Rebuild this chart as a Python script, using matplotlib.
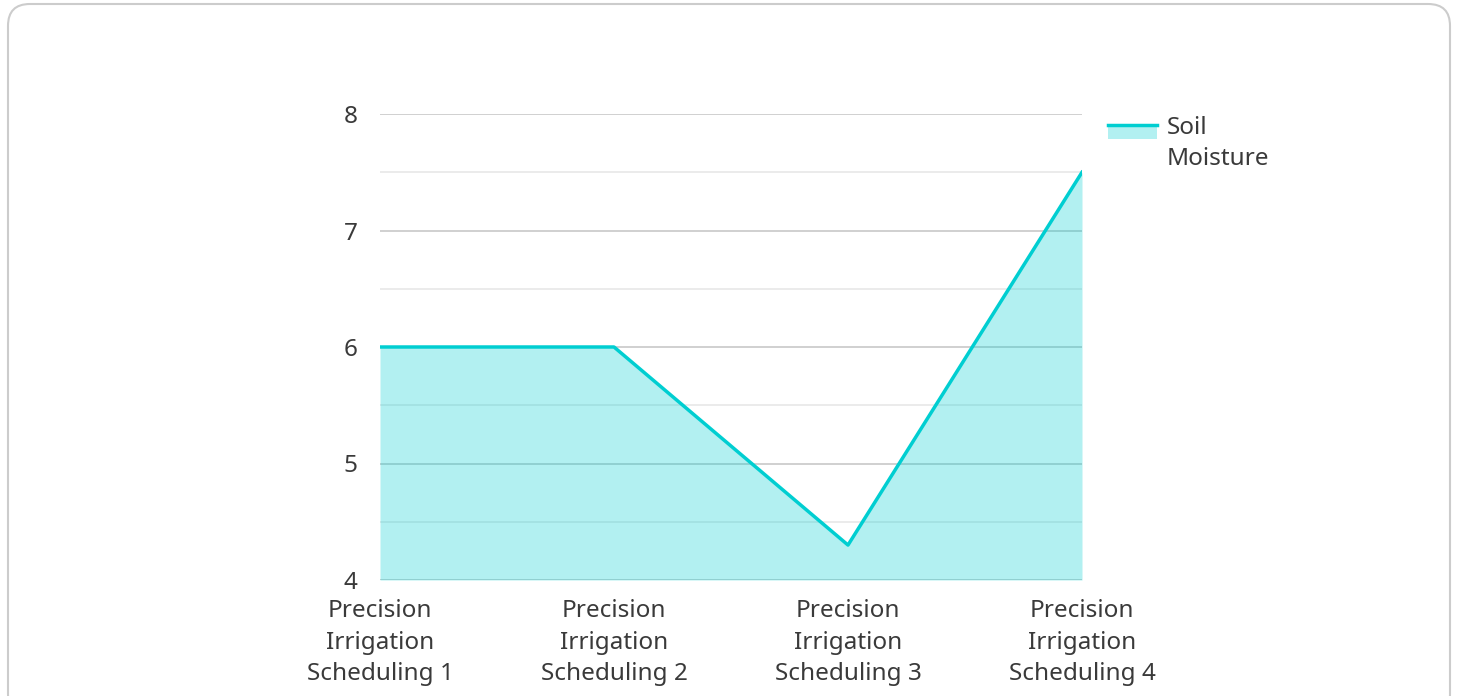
import matplotlib
matplotlib.use("Agg")
import matplotlib.pyplot as plt
from matplotlib.patches import FancyBboxPatch, Rectangle
from matplotlib.lines import Line2D
from matplotlib.legend_handler import HandlerBase

plt.rcParams['font.family'] = ['Noto Sans', 'DejaVu Sans']

# --- data ---
categories = [
    "Precision\nIrrigation\nScheduling 1",
    "Precision\nIrrigation\nScheduling 2",
    "Precision\nIrrigation\nScheduling 3",
    "Precision\nIrrigation\nScheduling 4",
]
soil_moisture = [6.0, 6.0, 4.3, 7.5]
series_name = "Soil\nMoisture"

LINE_COLOR = "#00CED1"
FILL_COLOR = "#00CED1"
TEXT_COLOR = "#3a3a3a"
FONT_SIZE = 17.5


class AreaHandler(HandlerBase):
    """Legend key: line on top of a light filled band, level with the first text line."""
    def create_artists(self, legend, orig_handle, xdescent, ydescent,
                       width, height, fontsize, trans):
        line_y = height - ydescent + 0.5 * fontsize
        patch = Rectangle((-xdescent, line_y - height), width, height,
                          facecolor=FILL_COLOR, alpha=0.3, edgecolor='none',
                          transform=trans)
        line = Line2D([-xdescent, width - xdescent], [line_y, line_y],
                      color=LINE_COLOR, linewidth=2.5, transform=trans)
        return [patch, line]


fig = plt.figure(figsize=(14.58, 6.96), dpi=100)

# rounded card border
card = FancyBboxPatch((8 / 1458, -20 / 696), 1442 / 1458, 712 / 696,
                      boxstyle="round,pad=0,rounding_size=0.015",
                      transform=fig.transFigure, facecolor='white',
                      edgecolor='#cccccc', linewidth=1.5, zorder=-10,
                      mutation_aspect=1458 / 696)
fig.patches.append(card)

ax = fig.add_axes([380 / 1458, 1 - 580 / 696, 702 / 1458, 466 / 696])
ax.set_facecolor('none')
ax.set_zorder(1)

x = list(range(len(categories)))
ax.fill_between(x, 4, soil_moisture, color=FILL_COLOR, alpha=0.3, linewidth=0, zorder=2)
ax.plot(x, soil_moisture, color=LINE_COLOR, linewidth=2.5, zorder=3)

ax.set_xlim(0, len(categories) - 1)
ax.set_ylim(4, 8)

# gridlines: integer values darker, half values lighter
for v in [4, 5, 6, 7, 8]:
    ax.axhline(v, color='#c8c8c8', linewidth=1.2, zorder=1)
for v in [4.5, 5.5, 6.5, 7.5]:
    ax.axhline(v, color='#e8e8e8', linewidth=1.2, zorder=1)

ax.set_yticks([4, 5, 6, 7, 8])
ax.set_xticks(x)
ax.set_xticklabels(categories, linespacing=1.4)
ax.tick_params(axis='both', length=0, labelsize=FONT_SIZE, colors=TEXT_COLOR)
ax.tick_params(axis='y', pad=16)
ax.tick_params(axis='x', pad=14)
for s in ax.spines.values():
    s.set_visible(False)

leg = fig.legend([object()], [series_name], handler_map={object: AreaHandler()},
                 loc='upper left', bbox_to_anchor=(1108 / 1458, 1 - 116 / 696),
                 frameon=False, fontsize=FONT_SIZE, handlelength=2.0, handleheight=0.5,
                 handletextpad=0.42, borderpad=0, borderaxespad=0,
                 labelcolor=TEXT_COLOR)
for t in leg.get_texts():
    t.set_linespacing(1.4)

fig.savefig("out.png", dpi=100)
